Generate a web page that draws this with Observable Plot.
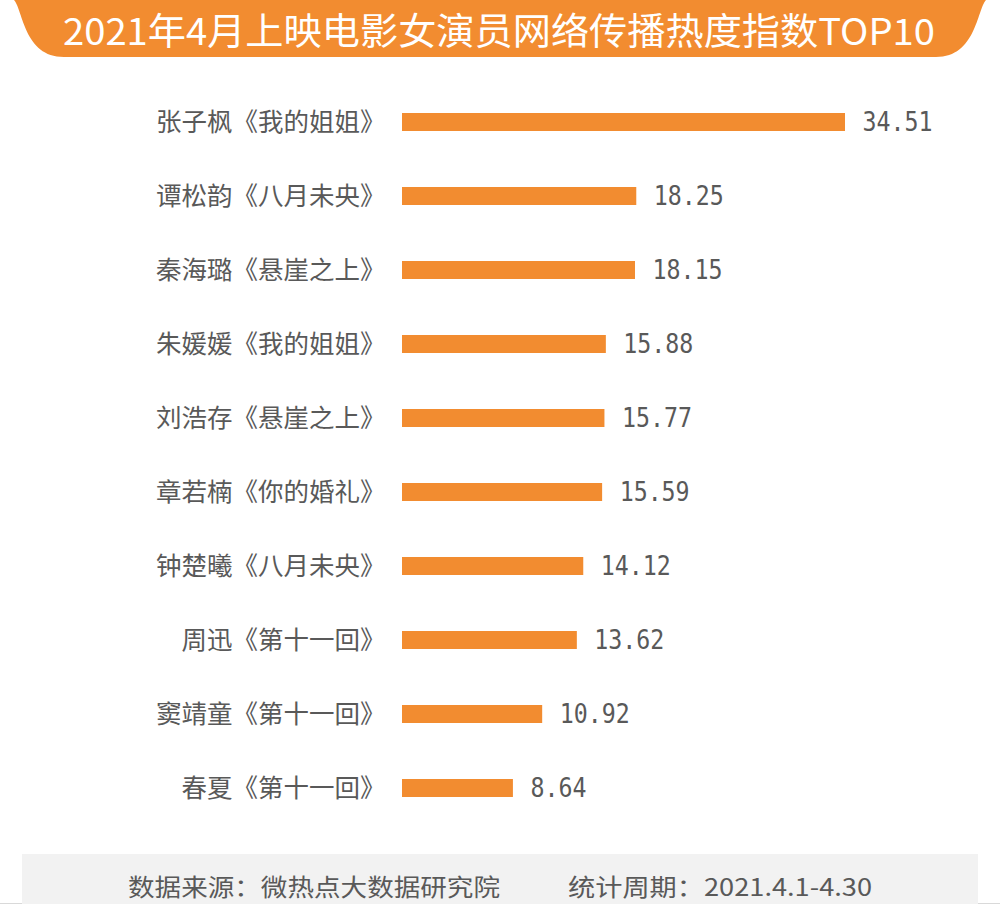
<!DOCTYPE html>
<html>
<head>
<meta charset="utf-8">
<script src="https://cdn.jsdelivr.net/npm/d3@7"></script>
<script src="https://cdn.jsdelivr.net/npm/@observablehq/plot@0.6"></script>
<style>
  html, body { margin: 0; padding: 0; background: #fff; }
  #page { position: relative; width: 1000px; height: 907px; overflow: hidden; font-family: "Noto Sans CJK SC", sans-serif; }
  #header, #footer, #chart { position: absolute; left: 0; }
  #header { top: 0; }
  #chart { top: 60px; }
  #footer { top: 840px; }
</style>
</head>
<body>
<div id="page">
  <svg id="header" width="1000" height="60">
    <path d="M 14 0 L 986 0 C 977 10 976 57 936 57 L 64 57 C 24 57 23 10 14 0 Z" fill="#F28C30"></path>
    <text x="499" y="29" dominant-baseline="central" text-anchor="middle" fill="#ffffff"
      font-family="Noto Sans CJK SC" font-size="37" textLength="872" lengthAdjust="spacingAndGlyphs">2021年4月上映电影女演员网络传播热度指数TOP10</text>
  </svg>
  <div id="chart"></div>
  <svg id="footer" width="1000" height="67">
    <line x1="0" x2="1000" y1="63.5" y2="63.5" stroke="#d9d9d9" stroke-width="1"></line>
    <rect x="22" y="14" width="956" height="50" fill="#f2f2f2"></rect>
    <text x="128" y="45" dominant-baseline="central" fill="#595959" font-family="Noto Sans CJK SC"
      font-size="24" textLength="372" lengthAdjust="spacingAndGlyphs">数据来源：微热点大数据研究院</text>
    <text x="568" y="45" dominant-baseline="central" fill="#595959" font-family="Noto Sans CJK SC"
      font-size="24" textLength="304" lengthAdjust="spacingAndGlyphs">统计周期：2021.4.1-4.30</text>
  </svg>
</div>
<script>
const names = [
  "张子枫《我的姐姐》",
  "谭松韵《八月未央》",
  "秦海璐《悬崖之上》",
  "朱媛媛《我的姐姐》",
  "刘浩存《悬崖之上》",
  "章若楠《你的婚礼》",
  "钟楚曦《八月未央》",
  "周迅《第十一回》",
  "窦靖童《第十一回》",
  "春夏《第十一回》"
];
const values = [34.51, 18.25, 18.15, 15.88, 15.77, 15.59, 14.12, 13.62, 10.92, 8.64];

const data = names.map((name, i) => ({name, value: values[i]}));

const chart = Plot.plot({
  width: 1000,
  height: 784,
  marginTop: 15,
  marginBottom: 10,
  marginLeft: 402,
  marginRight: 155,
  style: {color: "#595959", fontFamily: "Noto Sans CJK SC", background: "transparent"},
  x: {domain: [0, d3.max(values)], axis: null},
  y: {domain: names, paddingInner: 0.757, paddingOuter: 0.5, label: null},
  marks: [
    Plot.axisY({tickSize: 0, tickPadding: 17, fontSize: 25.5, fill: "#595959", label: null}),
    Plot.barX(data, {x: "value", y: "name", fill: "#F28C30"}),
    Plot.text(data, {
      x: "value", y: "name",
      text: d => d.value.toFixed(2),
      dx: 17, textAnchor: "start",
      fontSize: 27, fontFamily: "DejaVu Sans Mono", fill: "#595959"
    })
  ]
});
document.getElementById("chart").appendChild(chart);

// condense the value labels to match the narrow digits of the reference
const valueTexts = new Set(values.map(v => v.toFixed(2)));
chart.querySelectorAll("text").forEach(el => {
  const t = el.textContent.trim();
  if (valueTexts.has(t)) {
    el.setAttribute("textLength", String(t.length * 14));
    el.setAttribute("lengthAdjust", "spacingAndGlyphs");
  }
});
</script>
</body>
</html>
